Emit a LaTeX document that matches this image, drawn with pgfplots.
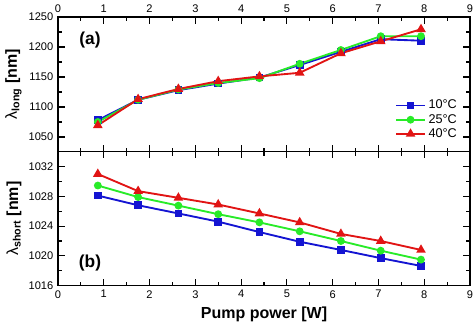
\documentclass[border=0pt]{standalone}
\usepackage{fontspec}
\setmainfont{Liberation Sans}
\usepackage{pgfplots}
\pgfplotsset{compat=1.18}
\definecolor{cblue}{RGB}{20,20,210}
\definecolor{cgreen}{RGB}{40,235,40}
\definecolor{cred}{RGB}{225,20,20}
\begin{document}
\begin{tikzpicture}
\pgfplotsset{
 every axis/.append style={
  scale only axis, width=309pt,
  xmin=0, xmax=9, xtick={0,...,9}, minor x tick num=1, minor y tick num=1,
  tick align=inside, tick style={black, line width=0.8pt},
  major tick length=5pt, minor tick length=3pt,
  axis line style={line width=0.9pt},
  /pgf/number format/assume math mode=true,
  /pgf/number format/1000 sep={},
  tick label style={font=\fontsize{8.3}{10}\selectfont},
  label style={font=\fontsize{12}{14}\selectfont\bfseries},
  ylabel style={yshift=-1.5pt},
 },
 ser/.style={line width=1.4pt, mark size=2.2pt, mark options={solid}},
}
\begin{axis}[name=top, height=101pt, ymin=1025.5, ymax=1250,
  ytick={1050,1100,...,1250}, xticklabel pos=upper,
  ylabel={{\mdseries λ}\textsubscript{long} [nm]},
  legend cell align=left,
  legend style={draw=none, fill=none, at={(rel axis cs:0.985,0.05)}, anchor=south east,
    font=\fontsize{9.5}{11}\selectfont, row sep=-1.5pt},
  legend image code/.code={\draw[mark repeat=2,mark phase=2] plot coordinates {(0cm,0cm)(0.38cm,0cm)(0.76cm,0cm)};},
]
\addplot[ser, cblue, mark=square*] coordinates {(0.87,1078)(1.75,1112)(2.63,1128)(3.5,1139)(4.4,1149)(5.28,1170)(6.18,1192)(7.05,1213)(7.93,1210.5)};
\addplot[ser, cgreen, mark=*] coordinates {(0.87,1075)(1.75,1112)(2.63,1129)(3.5,1140)(4.4,1148)(5.28,1172)(6.18,1195)(7.05,1218)(7.93,1218)};
\addplot[ser, cred, mark=triangle*, mark size=2.8pt] coordinates {(0.87,1069.5)(1.75,1113)(2.63,1130)(3.5,1143)(4.4,1151)(5.28,1157)(6.18,1189.5)(7.05,1209.5)(7.93,1229.5)};
\legend{10°C,25°C,40°C}
\node[font=\fontsize{13}{15}\selectfont\bfseries] at (axis cs:0.7,1212) {(a)};
\end{axis}
\begin{axis}[at={(top.south west)}, anchor=north west, height=100.5pt,
  ymin=1016, ymax=1034, ytick={1016,1020,...,1032},
  xlabel={Pump power [W]},
  ylabel={{\mdseries λ}\textsubscript{short} [nm]},
]
\addplot[ser, cblue, mark=square*] coordinates {(0.87,1028.1)(1.75,1026.8)(2.63,1025.7)(3.5,1024.6)(4.4,1023.2)(5.28,1021.9)(6.18,1020.8)(7.05,1019.7)(7.93,1018.65)};
\addplot[ser, cgreen, mark=*] coordinates {(0.87,1029.45)(1.75,1027.9)(2.63,1026.75)(3.5,1025.6)(4.4,1024.5)(5.28,1023.3)(6.18,1022.0)(7.05,1020.7)(7.93,1019.5)};
\addplot[ser, cred, mark=triangle*, mark size=2.8pt] coordinates {(0.87,1031.0)(1.75,1028.7)(2.63,1027.8)(3.5,1026.9)(4.4,1025.7)(5.28,1024.5)(6.18,1022.95)(7.05,1022.0)(7.93,1020.8)};
\node[font=\fontsize{13}{15}\selectfont\bfseries] at (axis cs:0.7,1019) {(b)};
\end{axis}
\pgfresetboundingbox
\path[use as bounding box] ([shift={(-43.5pt,12.75pt)}]top.north west) rectangle ([shift={(312pt,-231pt)}]top.north west);
\end{tikzpicture}
\end{document}
